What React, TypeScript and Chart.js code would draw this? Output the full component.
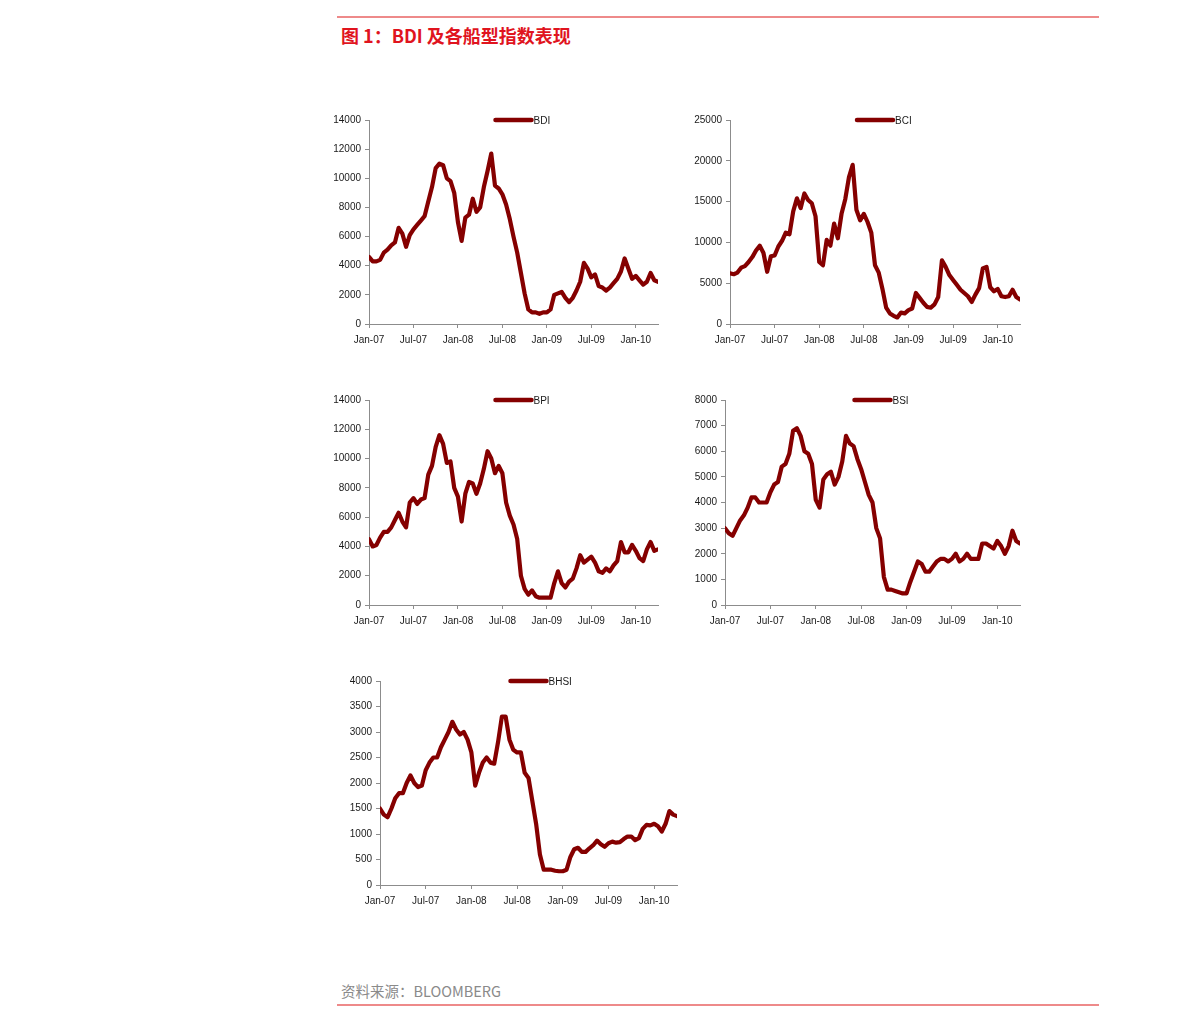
import React, { useEffect, useRef } from "react";
import { Chart, registerables } from "chart.js";

Chart.register(...registerables);

// ---- data (semi-monthly readings, Jan-07 .. end Mar-10) ----
const tickLabels = ["Jan-07", "Jul-07", "Jan-08", "Jul-08", "Jan-09", "Jul-09", "Jan-10"];
const monthsPerTick = 6;
const monthsPerPoint = 0.5;

const bdiValues = [
  4600, 4300, 4300, 4400, 4900, 5100, 5400, 5600, 6600, 6200,
  5300, 6100, 6500, 6800, 7100, 7400, 8400, 9400, 10700, 11000,
  10900, 10000, 9800, 9000, 7000, 5700, 7300, 7500, 8600, 7700,
  8000, 9400, 10500, 11700, 9500, 9300, 8900, 8200, 7200, 6000,
  4900, 3500, 2100, 1000, 800, 800, 700, 800, 800, 1000,
  2000, 2100, 2200, 1800, 1500, 1800, 2300, 2900, 4200, 3800,
  3200, 3400, 2600, 2500, 2300, 2500, 2800, 3100, 3600, 4500,
  3800, 3100, 3300, 3000, 2700, 2900, 3500, 3000, 2900,
];
const bciValues = [
  6200, 6100, 6300, 6900, 7100, 7600, 8200, 9000, 9600, 8700,
  6400, 8300, 8400, 9500, 10200, 11200, 11000, 13800, 15400, 14200,
  16000, 15200, 14800, 13200, 7600, 7200, 10300, 9600, 12300, 10500,
  13500, 15300, 18000, 19500, 14000, 12700, 13500, 12500, 11200, 7200,
  6300, 4300, 2000, 1300, 1000, 800, 1400, 1300, 1700, 1900,
  3800, 3200, 2600, 2100, 2000, 2400, 3300, 7800, 7000, 6000,
  5400, 4800, 4200, 3800, 3400, 2700, 3600, 4400, 6800, 7000,
  4500, 4000, 4300, 3400, 3300, 3400, 4200, 3300, 3000,
];
const bpiValues = [
  4500, 4000, 4100, 4600, 5000, 5000, 5300, 5800, 6300, 5700,
  5300, 7000, 7300, 6900, 7200, 7300, 8900, 9500, 10800, 11600,
  11000, 9700, 9800, 8000, 7400, 5700, 7600, 8400, 8300, 7600,
  8300, 9300, 10500, 10000, 9000, 9500, 9000, 7000, 6100, 5500,
  4500, 2000, 1100, 700, 1000, 600, 500, 500, 500, 500,
  1500, 2300, 1500, 1200, 1600, 1800, 2500, 3400, 2900, 3100,
  3300, 2900, 2300, 2200, 2500, 2300, 2700, 3000, 4300, 3600,
  3600, 4100, 3700, 3200, 3000, 3800, 4300, 3700, 3800,
];
const bsiValues = [
  3000, 2800, 2700, 3000, 3300, 3500, 3800, 4200, 4200, 4000,
  4000, 4000, 4400, 4700, 4800, 5400, 5500, 5900, 6800, 6900,
  6600, 6000, 5900, 5500, 4100, 3800, 4900, 5100, 5200, 4700,
  5000, 5600, 6600, 6300, 6200, 5700, 5300, 4800, 4300, 4000,
  3000, 2600, 1100, 600, 600, 550, 500, 450, 450, 900,
  1300, 1700, 1600, 1300, 1300, 1500, 1700, 1800, 1800, 1700,
  1800, 2000, 1700, 1800, 2000, 1800, 1800, 1800, 2400, 2400,
  2300, 2200, 2500, 2300, 2000, 2300, 2900, 2500, 2400,
];
const bhsiValues = [
  1500, 1380, 1330, 1500, 1700, 1800, 1800, 2000, 2150, 2000,
  1920, 1950, 2250, 2400, 2500, 2500, 2700, 2850, 3000, 3200,
  3050, 2950, 3000, 2850, 2600, 1950, 2200, 2400, 2500, 2400,
  2380, 2800, 3300, 3300, 2850, 2650, 2600, 2600, 2200, 2100,
  1650, 1200, 600, 300, 300, 300, 280, 270, 270, 300,
  550, 700, 730, 650, 650, 720, 780, 870, 800, 750,
  820, 850, 830, 840, 900, 950, 950, 880, 920, 1100,
  1180, 1170, 1200, 1150, 1050, 1200, 1450, 1380, 1350,
];

const LINE_COLOR = "#850000";
const AXIS_COLOR = "#8c8c8c";
const TEXT_COLOR = "#1a1a1a";
const FONT_FAMILY = "'Liberation Sans', Arial, sans-serif";

const miniLegend = {
  id: "miniLegend",
  afterDraw(chart: any) {
    const { ctx, chartArea } = chart;
    const label = chart.data.datasets[0].label;
    const cx = (chartArea.left + chartArea.right) / 2;
    const y = chartArea.top;
    ctx.save();
    ctx.strokeStyle = LINE_COLOR;
    ctx.lineWidth = 4.5;
    ctx.lineCap = "round";
    ctx.beginPath();
    ctx.moveTo(cx - 18, y);
    ctx.lineTo(cx + 18, y);
    ctx.stroke();
    ctx.fillStyle = TEXT_COLOR;
    ctx.font = `10px ${FONT_FAMILY}`;
    ctx.textBaseline = "middle";
    ctx.textAlign = "left";
    ctx.fillText(label, cx + 20, y + 1);
    ctx.restore();
  },
};

type BoxProps = {
  label: string;
  values: number[];
  yMax: number;
  yStep: number;
  plotLeft: number;
  plotRight: number;
  plotTop: number;
  plotBottom: number;
};

const Y_W = 50;
const X_H = 30;
const PAD_TOP = 12;
const PAD_RIGHT = 6;

function ChartBox(props: BoxProps) {
  const ref = useRef<HTMLCanvasElement | null>(null);
  const { label, values, yMax, yStep, plotLeft, plotRight, plotTop, plotBottom } = props;
  const width = plotRight - plotLeft + Y_W + PAD_RIGHT;
  const height = plotBottom - plotTop + PAD_TOP + X_H;

  useEffect(() => {
    if (!ref.current) return;
    const xMax = (values.length - 1) * monthsPerPoint;
    const chart = new Chart(ref.current, {
      type: "line",
      data: {
        datasets: [
          {
            label,
            data: values.map((v, i) => ({ x: i * monthsPerPoint, y: v })),
            borderColor: LINE_COLOR,
            backgroundColor: LINE_COLOR,
            borderWidth: 4.2,
            pointRadius: 0,
            tension: 0,
            borderJoinStyle: "round",
            borderCapStyle: "round",
          },
        ],
      },
      options: {
        animation: false,
        responsive: false,
        maintainAspectRatio: false,
        layout: { padding: { top: PAD_TOP, right: PAD_RIGHT, left: 0, bottom: 0 } },
        plugins: { legend: { display: false }, tooltip: { enabled: false } },
        scales: {
          x: {
            type: "linear",
            min: 0,
            max: xMax,
            afterBuildTicks: (s: any) => {
              s.ticks = tickLabels.map((_, i) => ({ value: i * monthsPerTick }));
            },
            afterFit: (s: any) => {
              s.height = X_H;
            },
            grid: {
              display: true,
              drawOnChartArea: false,
              drawTicks: true,
              tickLength: 4,
              color: AXIS_COLOR,
            },
            border: { display: true, color: AXIS_COLOR, width: 1 },
            ticks: {
              autoSkip: false,
              maxRotation: 0,
              padding: 6,
              color: TEXT_COLOR,
              font: { family: FONT_FAMILY, size: 10 },
              callback: (_v: any, i: number) => tickLabels[i],
            },
          },
          y: {
            type: "linear",
            min: 0,
            max: yMax,
            afterFit: (s: any) => {
              s.width = Y_W;
            },
            grid: {
              display: true,
              drawOnChartArea: false,
              drawTicks: true,
              tickLength: 4,
              color: AXIS_COLOR,
            },
            border: { display: true, color: AXIS_COLOR, width: 1 },
            ticks: {
              stepSize: yStep,
              padding: 4,
              color: TEXT_COLOR,
              font: { family: FONT_FAMILY, size: 10 },
              callback: (v: any) => String(v),
            },
          },
        },
      },
      plugins: [miniLegend],
    } as any);
    return () => chart.destroy();
  }, [label, values, yMax, yStep]);

  return (
    <canvas
      ref={ref}
      width={width}
      height={height}
      style={{
        position: "absolute",
        left: plotLeft - Y_W,
        top: plotTop - PAD_TOP,
        width,
        height,
      }}
    />
  );
}

export default function App() {
  return (
    <div style={{ position: "absolute", left: 0, top: 0, width: 1191, height: 1019, background: "#fff" }}>
      <div style={{ position: "absolute", left: 337, top: 16, width: 762, height: 2, background: "#ee8a8a" }} />
      <div
        style={{
          position: "absolute",
          left: 341,
          top: 22,
          fontFamily: "'Noto Sans CJK SC', sans-serif",
          fontWeight: 700,
          fontSize: 18,
          lineHeight: "26px",
          color: "#e0141e",
          whiteSpace: "nowrap",
        }}
      >
        图 1：BDI 及各船型指数表现
      </div>

      <ChartBox label="BDI" values={bdiValues} yMax={14000} yStep={2000} plotLeft={369} plotRight={658} plotTop={120} plotBottom={324} />
      <ChartBox label="BCI" values={bciValues} yMax={25000} yStep={5000} plotLeft={730} plotRight={1020} plotTop={120} plotBottom={324} />
      <ChartBox label="BPI" values={bpiValues} yMax={14000} yStep={2000} plotLeft={369} plotRight={658} plotTop={400} plotBottom={605} />
      <ChartBox label="BSI" values={bsiValues} yMax={8000} yStep={1000} plotLeft={725} plotRight={1020} plotTop={400} plotBottom={605} />
      <ChartBox label="BHSI" values={bhsiValues} yMax={4000} yStep={500} plotLeft={380} plotRight={677} plotTop={681} plotBottom={885} />

      <div
        style={{
          position: "absolute",
          left: 341,
          top: 982,
          fontFamily: "'Noto Sans CJK SC', 'Liberation Sans', sans-serif",
          fontSize: 14.5,
          lineHeight: "18px",
          color: "#8a8a8a",
          whiteSpace: "nowrap",
        }}
      >
        资料来源：BLOOMBERG
      </div>
      <div style={{ position: "absolute", left: 337, top: 1004, width: 762, height: 2, background: "#ee8a8a" }} />
    </div>
  );
}
